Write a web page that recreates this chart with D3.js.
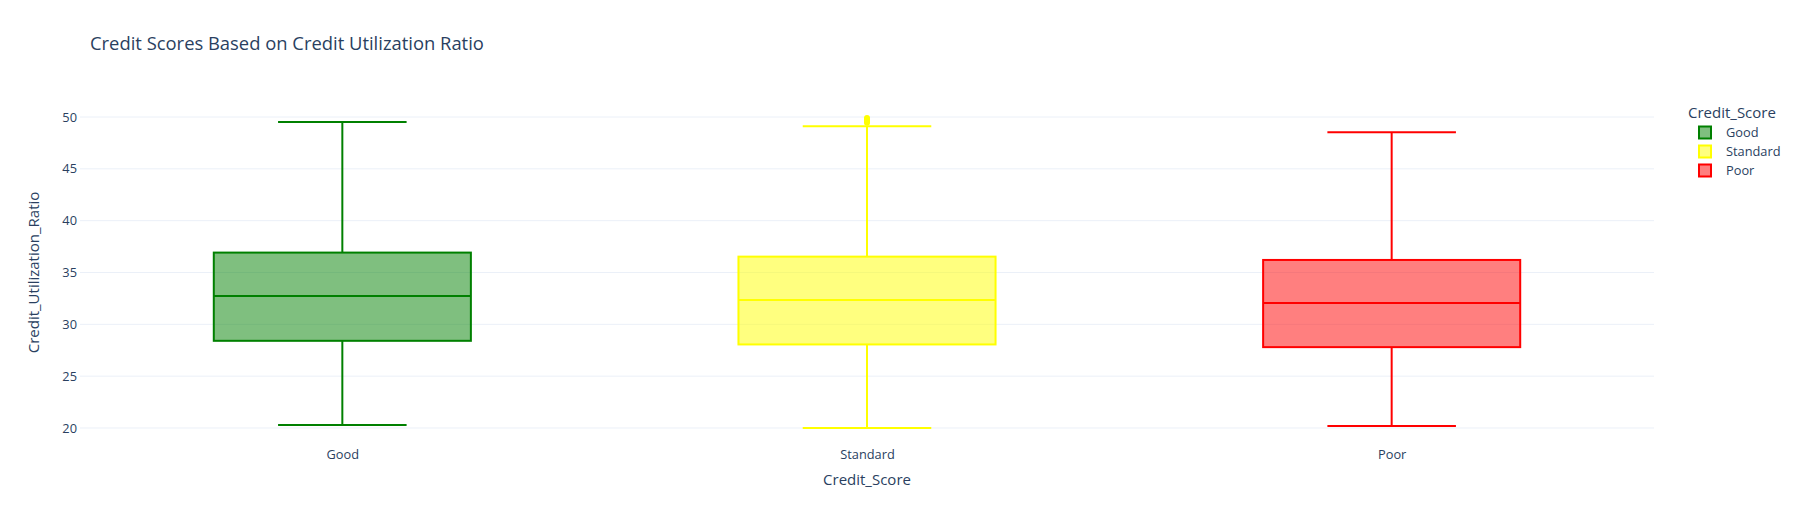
<!DOCTYPE html>
<html>
<head>
<meta charset="utf-8">
<script src="https://cdn.jsdelivr.net/npm/d3@7"></script>
<style>
  body { margin: 0; background: #fff; }
  svg { font-family: "Open Sans", sans-serif; }
</style>
</head>
<body>
<div id="chart"></div>
<script>
const width = 1798, height = 525;
const margin = {top: 100, right: 144, bottom: 80, left: 80};

// box summary per credit score group
const categories = ["Good", "Standard", "Poor"];
const lowerFence = [20.29, 20.0, 20.19];
const q1 = [28.41, 28.06, 27.80];
const median = [32.73, 32.34, 32.05];
const q3 = [36.92, 36.53, 36.21];
const upperFence = [49.52, 49.10, 48.52];
const outliers = [[], [49.45, 49.6, 49.75, 49.9], []];
const lineColors = ["#008000", "#ffff00", "#ff0000"];
const yTicks = [20, 25, 30, 35, 40, 45, 50];

const svg = d3.select("#chart").append("svg")
    .attr("width", width)
    .attr("height", height);

const x = d3.scalePoint()
    .domain(categories)
    .range([margin.left, width - margin.right])
    .padding(0.5);

const y = d3.scaleLinear()
    .domain([18.36, 51.64])
    .range([height - margin.bottom, margin.top]);

const step = x.step();
const boxW = step * 0.49;
const capW = boxW * 0.5;

// grid lines
svg.append("g")
    .selectAll("line")
    .data(yTicks)
    .enter().append("line")
    .attr("x1", margin.left)
    .attr("x2", width - margin.right)
    .attr("y1", d => y(d))
    .attr("y2", d => y(d))
    .attr("stroke", "#ebf0f8")
    .attr("stroke-width", 1);

// y axis labels
const yAxis = svg.append("g")
    .attr("transform", `translate(${margin.left},0)`)
    .call(d3.axisLeft(y).tickValues(yTicks).tickSize(0).tickPadding(3));
yAxis.select(".domain").remove();
yAxis.selectAll("text")
    .attr("fill", "#2a3f5f")
    .attr("font-size", 12.8)
    .attr("font-family", "Open Sans, sans-serif");

// x axis labels
const xAxis = svg.append("g")
    .attr("transform", `translate(0,${height - margin.bottom})`)
    .call(d3.axisBottom(x).tickSize(0).tickPadding(5));
xAxis.select(".domain").remove();
xAxis.selectAll("text")
    .attr("fill", "#2a3f5f")
    .attr("font-size", 12.8)
    .attr("font-family", "Open Sans, sans-serif");

// boxes
const boxes = svg.append("g")
    .selectAll("g")
    .data(categories)
    .enter().append("g");

boxes.each(function (c, i) {
    const g = d3.select(this);
    const cx = x(c);
    const col = lineColors[i];

    // whiskers
    g.append("line")
        .attr("x1", cx).attr("x2", cx)
        .attr("y1", y(q3[i])).attr("y2", y(upperFence[i]))
        .attr("stroke", col).attr("stroke-width", 2);
    g.append("line")
        .attr("x1", cx).attr("x2", cx)
        .attr("y1", y(q1[i])).attr("y2", y(lowerFence[i]))
        .attr("stroke", col).attr("stroke-width", 2);
    [upperFence[i], lowerFence[i]].forEach(v => {
        g.append("line")
            .attr("x1", cx - capW / 2).attr("x2", cx + capW / 2)
            .attr("y1", y(v)).attr("y2", y(v))
            .attr("stroke", col).attr("stroke-width", 2);
    });

    g.append("rect")
        .attr("x", cx - boxW / 2)
        .attr("width", boxW)
        .attr("y", y(q3[i]))
        .attr("height", y(q1[i]) - y(q3[i]))
        .attr("fill", col)
        .attr("fill-opacity", 0.5)
        .attr("stroke", col)
        .attr("stroke-width", 2);

    g.append("line")
        .attr("x1", cx - boxW / 2).attr("x2", cx + boxW / 2)
        .attr("y1", y(median[i])).attr("y2", y(median[i]))
        .attr("stroke", col).attr("stroke-width", 2);

    g.selectAll("circle")
        .data(outliers[i])
        .enter().append("circle")
        .attr("cx", cx)
        .attr("cy", d => y(d))
        .attr("r", 3)
        .attr("fill", col);
});

// title
svg.append("text")
    .attr("x", 90)
    .attr("y", 50)
    .attr("fill", "#2a3f5f")
    .attr("font-size", 18.4)
    .text("Credit Scores Based on Credit Utilization Ratio");

// axis titles
svg.append("text")
    .attr("x", (margin.left + width - margin.right) / 2)
    .attr("y", 485)
    .attr("text-anchor", "middle")
    .attr("fill", "#2a3f5f")
    .attr("font-size", 15)
    .text("Credit_Score");

svg.append("text")
    .attr("transform", `translate(39,${(margin.top + height - margin.bottom) / 2}) rotate(-90)`)
    .attr("text-anchor", "middle")
    .attr("fill", "#2a3f5f")
    .attr("font-size", 15)
    .text("Credit_Utilization_Ratio");

// legend
const legend = svg.append("g").attr("transform", "translate(1688,0)");
legend.append("text")
    .attr("x", 0)
    .attr("y", 118)
    .attr("fill", "#2a3f5f")
    .attr("font-size", 15)
    .text("Credit_Score");

const items = legend.selectAll(".item")
    .data(categories)
    .enter().append("g")
    .attr("class", "item")
    .attr("transform", (d, i) => `translate(0,${132.5 + i * 19})`);

items.append("rect")
    .attr("x", 11)
    .attr("y", -6)
    .attr("width", 12)
    .attr("height", 12)
    .attr("fill", (d, i) => lineColors[i])
    .attr("fill-opacity", 0.5)
    .attr("stroke", (d, i) => lineColors[i])
    .attr("stroke-width", 2);

items.append("text")
    .attr("x", 38)
    .attr("y", 4.5)
    .attr("fill", "#2a3f5f")
    .attr("font-size", 12.8)
    .text(d => d);
</script>
</body>
</html>
